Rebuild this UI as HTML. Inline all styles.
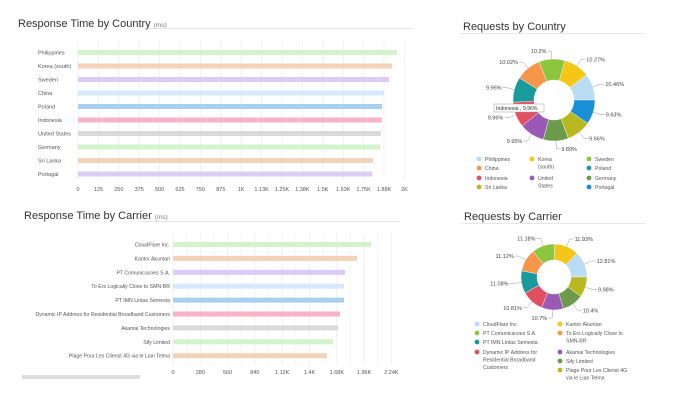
<!DOCTYPE html>
<html><head><meta charset="utf-8"><style>
body{margin:0;background:#fff;width:677px;height:400px;overflow:hidden;font-family:"Liberation Sans",sans-serif}
svg{position:absolute;left:0;top:0}
</style></head><body>
<svg id="s" width="677" height="400" xmlns="http://www.w3.org/2000/svg" font-family="Liberation Sans, sans-serif">
<text x="18" y="27" font-size="11" fill="#333">Response Time by Country <tspan font-size="6.5" fill="#777">(ms)</tspan></text>
<line x1="148" y1="28.5" x2="412" y2="28.5" stroke="#e4e4e4"/>
<text x="24" y="219" font-size="11" fill="#333">Response Time by Carrier <tspan font-size="6.5" fill="#777">(ms)</tspan></text>
<line x1="142" y1="221.5" x2="400" y2="221.5" stroke="#e4e4e4"/>
<text x="463" y="30" font-size="11" fill="#333">Requests by Country</text>
<line x1="460" y1="33.5" x2="645" y2="33.5" stroke="#e6e6e6"/>
<text x="464" y="220" font-size="11" fill="#333">Requests by Carrier</text>
<line x1="462" y1="223.5" x2="645" y2="223.5" stroke="#e6e6e6"/>
<rect x="22" y="375" width="118" height="4" fill="#ddd"/>
<g id="g"></g>
</svg>
<script>
var g=document.getElementById('g'),h='';
function t(x,y,s,sz,a,c){h+='<text x="'+x+'" y="'+y+'" font-size="'+(sz||5.5)+'" fill="'+(c||'#555')+'" text-anchor="'+(a||'start')+'">'+s+'</text>';}
var bc=['#d4f2cc','#f2d2b8','#dccbf7','#d6e8fb','#a8cfee','#f7b3c8','#d9d9d9','#d4f2cc','#f2d2b8','#dccbf7'];
// chart 1
var ticks=['0','125','250','375','500','625','750','875','1K','1.13K','1.25K','1.38K','1.5K','1.63K','1.75K','1.88K','2K'];
for(var i=0;i<17;i++){var x=78+i*20.4;h+='<line x1="'+x+'" y1="40" x2="'+x+'" y2="180" stroke="#f0f0f0"/>';t(x,191,ticks[i],5.5,'middle');}
var L=['Philippines','Korea (south)','Sweden','China','Poland','Indonesia','United States','Germany','Sri Lanka','Portugal'];
var E=[397,392,389,384,382,382,381,380,373,372];
for(i=0;i<10;i++){var y=52.5+i*13.5;h+='<rect x="78" y="'+(y-2.5)+'" width="'+(E[i]-78)+'" height="5" fill="'+bc[i]+'"/>';t(38,y+2,L[i],5.5,'start');}
// chart 2
var t2=['0','280','560','840','1.12K','1.4K','1.68K','1.96K','2.24K'];
for(i=0;i<9;i++){var x=173+i*27.3;h+='<line x1="'+x+'" y1="233" x2="'+x+'" y2="365" stroke="#f0f0f0"/>';if(i<8)h+='<line x1="'+(x+13.6)+'" y1="233" x2="'+(x+13.6)+'" y2="365" stroke="#f6f6f6"/>';t(x,374,t2[i],5.5,'middle');}
var L2=['CloudFlare Inc.','Kantor Akuntan','PT Comunicacoes S.A.','To Ers Logically Close to SMN-BR','PT IMN Lintas Semesta','Dynamic IP Address for Residential Broadband Customers','Akamai Technologies','Sify Limited','Plage Pour Les Clienst 4G via le Lian Telma'];
var E2=[371,357,345,344,344,340,338,333,327];
for(i=0;i<9;i++){var y=244.5+i*13.9;h+='<rect x="173" y="'+(y-2.5)+'" width="'+(E2[i]-173)+'" height="5" fill="'+bc[i]+'"/>';t(170,y+2,L2[i],5.2,'end');}
// donuts
function donut(cx,cy,R,r,vals,cols,labs){
 var tot=vals.reduce(function(a,b){return a+b},0),a=0;
 for(var k=0;k<vals.length;k++){
  var a0=a,a1=a+vals[k]/tot*2*Math.PI;a=a1;
  // angle measured counterclockwise from 3 o'clock
  function P(rr,an){return [(cx+rr*Math.cos(an)).toFixed(2),(cy-rr*Math.sin(an)).toFixed(2)];}
  var p1=P(R,a0),p2=P(R,a1),p3=P(r,a1),p4=P(r,a0);
  h+='<path d="M'+p1+' A'+R+','+R+' 0 0 0 '+p2+' L'+p3+' A'+r+','+r+' 0 0 1 '+p4+'Z" fill="'+cols[k]+'" stroke="#fff" stroke-width="0.4"/>';
  var m=(a0+a1)/2,q1=P(R,m),q2=P(R+8,m),ex=Math.cos(m)>=0;
  var q3=[(+q2[0]+(ex?4:-4)).toFixed(2),q2[1]];
  h+='<polyline points="'+q1+' '+q2+' '+q3+'" fill="none" stroke="#999" stroke-width="0.5"/>';
  t(+q3[0]+(ex?1:-1),+q3[1]+2,labs[k],5.5,ex?'start':'end','#444');
 }
 h+='<circle cx="'+cx+'" cy="'+cy+'" r="'+r+'" fill="#fff"/>';
}
var C1=['#b9dcf5','#f5c518','#8cc63f','#f7964a','#1a9a9a','#e05060','#9b59b6','#6a9a4a','#b8b820','#1a8fd8'];
var v1=[10.46,10.27,10.2,10.02,9.96,9.96,9.95,9.89,9.66,9.63];
donut(554,100,41,20,v1,C1,v1.map(function(v){return v+'%'}));
h+='<rect x="494" y="104" width="50" height="8" fill="#fff" stroke="#999" stroke-width="0.5"/>';t(496,110,'Indonesia , 9.96%',5.2,'start','#333');
var C2=['#b9dcf5','#f5c518','#8cc63f','#f7964a','#1a9a9a','#e05060','#9b59b6','#6a9a4a','#b8b820'];
var v2=[12.81,11.93,11.18,11.12,11.08,10.81,10.7,10.4,9.98];
donut(554,277,33,17,v2,C2,v2.map(function(v){return v+'%'}));
// legends
function li(x,y,c,s){h+='<circle cx="'+x+'" cy="'+y+'" r="2.4" fill="'+c+'"/>';var ls=s.split('|');for(var j=0;j<ls.length;j++)t(x+6,y+2+j*7.5,ls[j],5.2,'start','#555');}
var lg=[[479,159,0,'Philippines'],[532,159,1,'Korea|(south)'],[589,159,2,'Sweden'],[479,168,3,'China'],[589,168,4,'Poland'],[479,178,5,'Indonesia'],[532,178,6,'United|States'],[589,178,7,'Germany'],[479,187,8,'Sri Lanka'],[589,187,9,'Portugal']];
lg.forEach(function(l){li(l[0],l[1],C1[l[2]],l[3]);});
var lg2=[[477,324,0,'CloudFlare Inc.'],[560,324,1,'Kantor Akuntan'],[477,333,2,'PT Comunicacoes S.A.'],[560,333,3,'To Ers Logically Close to|SMN-BR'],[477,342,4,'PT IMN Lintas Semesta'],[477,352,5,'Dynamic IP Address for|Residential Broadband|Customers'],[560,352,6,'Akamai Technologies'],[560,361,7,'Sify Limited'],[560,370,8,'Plage Pour Les Clienst 4G|via le Lian Telma']];
lg2.forEach(function(l){li(l[0],l[1],C2[l[2]],l[3]);});
g.innerHTML=h;
</script>
</body></html>
